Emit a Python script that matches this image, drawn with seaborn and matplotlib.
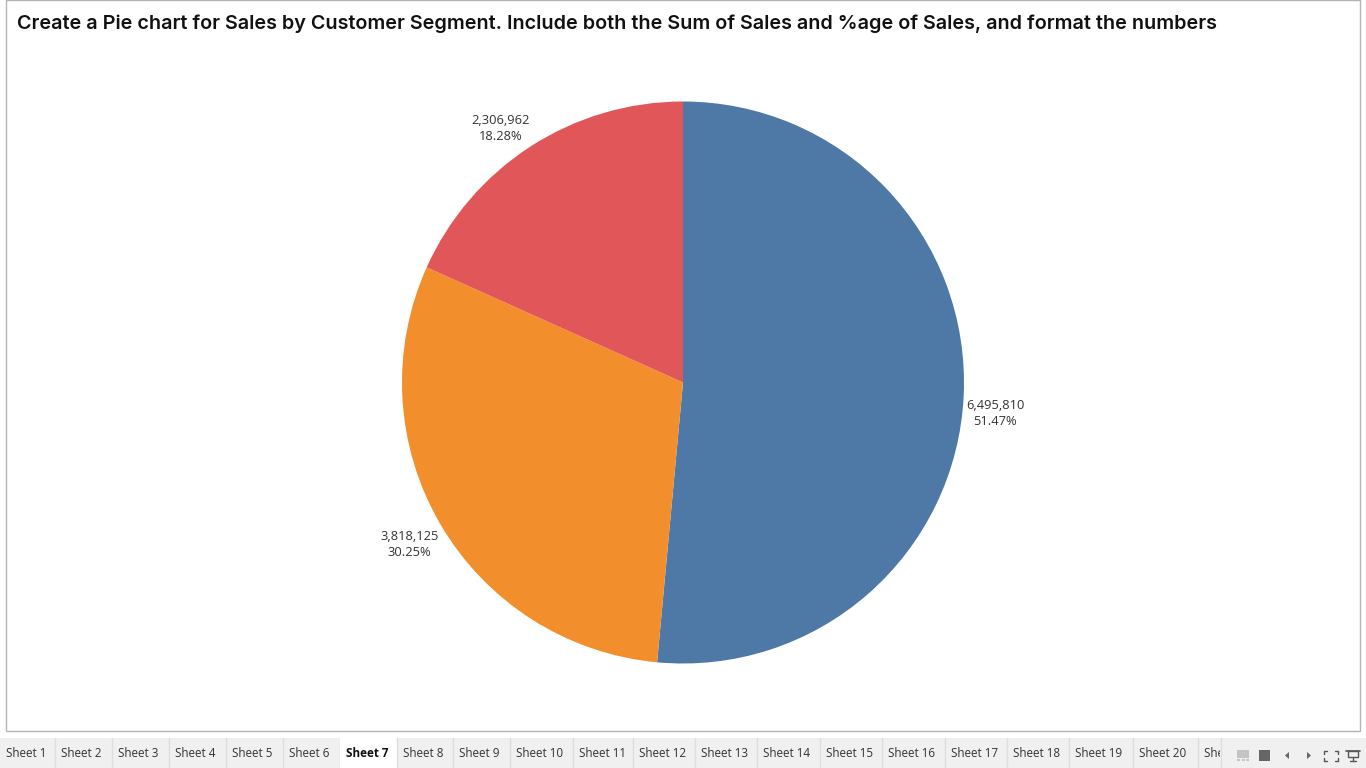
import matplotlib
matplotlib.use("Agg")
import matplotlib.pyplot as plt
from matplotlib.patches import Rectangle, Polygon
import seaborn as sns

TITLE = ("Create a Pie chart for Sales by Customer Segment. Include both the "
         "Sum of Sales and %age of Sales, and format the numbers")
sales = [6495810, 3818125, 2306962]
percents = [51.47, 30.25, 18.28]
slice_colors = ["#4E79A7", "#F28E2B", "#E15759"]
label_xy = [(995, 413.8), (409.5, 544), (501, 128.3)]

tab_names = [f"Sheet {i}" for i in range(1, 21)] + ["Sheet 21"]
tab_edges = [0, 55, 112, 169, 226, 283, 340, 397, 453, 510, 573, 633, 695,
             757, 820, 882, 945, 1007, 1069, 1133, 1198, 1221]
ACTIVE_TAB = "Sheet 7"

sns.set_theme(style="white")
plt.rcParams["font.family"] = ["Open Sans", "DejaVu Sans"]

W, H = 1366, 768
fig = plt.figure(figsize=(W / 100, H / 100), dpi=100, facecolor="white")

# page layer, in pixel coords
page = fig.add_axes([0, 0, 1, 1])
page.set_xlim(0, W)
page.set_ylim(H, 0)
page.axis("off")

page.add_patch(Rectangle((6, 0), 1354, 731, fill=False, ec="#B4B4B4", lw=1))
page.text(17, 23.5, TITLE, fontsize=14.26, fontweight="semibold", family="Inter",
          color="#111111", va="center", ha="left")

# pie
cx, cy, r = 683, 382.5, 281
pie_ax = fig.add_axes([(cx - r) / W, 1 - (cy + r) / H, 2 * r / W, 2 * r / H])
pie_ax.pie(sales, colors=sns.color_palette(slice_colors), startangle=90,
           counterclock=False, radius=1.0, wedgeprops={"edgecolor": "none", "linewidth": 0})
pie_ax.set_xlim(-1, 1)
pie_ax.set_ylim(-1, 1)

for val, pct, (x, y) in zip(sales, percents, label_xy):
    page.text(x, y, f"{val:,}\n{pct:.2f}%", fontsize=9.3, color="#333333",
              ha="center", va="center", linespacing=1.3, zorder=5)

# tab strip
page.add_patch(Rectangle((0, 738), W, 30, fc="#F0F0F0", ec="none"))
for i, name in enumerate(tab_names):
    left, right = tab_edges[i], tab_edges[i + 1]
    active = name == ACTIVE_TAB
    if active:
        page.add_patch(Rectangle((left, 738), right - left, 30, fc="white", ec="none", zorder=2))
    t = page.text(left + 6, 753.5, name, fontsize=8.35, color="#111111" if active else "#333333",
                  fontweight="bold" if active else "normal", va="center", ha="left", zorder=3)
    t.set_clip_on(True)
    t.set_clip_path(Rectangle((left, 738), right - left - 1, 30, transform=page.transData))
    page.plot([right, right], [738, 768], color="#DEDEDE", lw=1, zorder=2)

# bottom right controls
page.add_patch(Rectangle((1237, 750), 12, 8, fc="#C4C4C4", ec="none"))
for x in (1237, 1241.5, 1246):
    page.add_patch(Rectangle((x, 759), 3, 2, fc="#C4C4C4", ec="none"))
page.add_patch(Rectangle((1259, 750), 11, 11, fc="#666666", ec="none"))
page.add_patch(Polygon([[1289, 752], [1289, 759], [1285, 755.5]], fc="#666666", ec="none"))
page.add_patch(Polygon([[1307, 752], [1307, 759], [1311, 755.5]], fc="#666666", ec="none"))
for x0, x1, y0, y1 in [(1324, 1338, 751, 761)]:
    for px, py, dx, dy in [(x0, y0, 3, 3), (x1, y0, -3, 3), (x0, y1, 3, -3), (x1, y1, -3, -3)]:
        page.plot([px + dx, px, px], [py, py, py + dy], color="#555555", lw=1)
page.plot([1346, 1360], [751, 751], color="#555555", lw=1.2)
page.add_patch(Rectangle((1348, 751), 10, 6, fill=False, ec="#555555", lw=1))
page.plot([1353, 1353], [757, 761], color="#555555", lw=1)
page.plot([1350, 1356], [761, 761], color="#555555", lw=1)

fig.savefig("out.png", dpi=100)
